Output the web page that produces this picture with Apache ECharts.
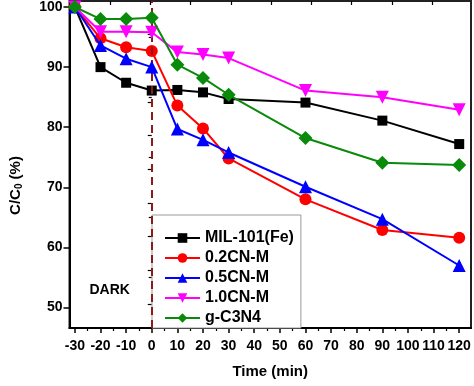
<!DOCTYPE html>
<html>
<head>
<meta charset="utf-8">
<script src="https://cdn.jsdelivr.net/npm/echarts@6/dist/echarts.min.js"></script>
<style>
html,body{margin:0;padding:0;background:#fff;}
#c{width:474px;height:386px;}
</style>
</head>
<body>
<div id="c"></div>
<script>
// ---- data ----
const time = [-30, -20, -10, 0, 10, 20, 30, 60, 90, 120];
const mil101 = [100, 90.0, 87.4, 86.1, 86.2, 85.8, 84.7, 84.1, 81.1, 77.2];
const cn02 = [100, 94.8, 93.3, 92.7, 83.6, 79.8, 74.8, 68.0, 62.9, 61.6];
const cn05 = [100, 93.6, 91.4, 90.0, 79.7, 77.9, 75.8, 70.1, 64.7, 57.0];
const cn10 = [100, 95.9, 95.9, 95.8, 92.5, 92.1, 91.5, 86.1, 85.0, 82.9];
const gc3n4 = [100, 98.0, 98.0, 98.2, 90.4, 88.2, 85.4, 78.2, 74.1, 73.7];
const seriesNames = ['MIL-101(Fe)', '0.2CN-M', '0.5CN-M', '1.0CN-M', 'g-C3N4'];

const xTicks = [-30, -20, -10, 0, 10, 20, 30, 40, 50, 60, 70, 80, 90, 100, 110, 120];
const xMinorTicks = [-25, -15, -5, 5, 15, 25, 35, 45, 55, 65, 75, 85, 95, 105, 115];
const yTicks = [50, 60, 70, 80, 90, 100];
const yMinorTicks = [55, 65, 75, 85, 95];
const topTicks = [-16.2, -0.5, 15.2, 30.9, 46.6, 62.3, 78.0, 93.7, 109.4];
const rightTicks = [50.6, 56.2, 61.8, 67.4, 73.0, 78.6, 84.2, 89.8, 95.4];
const darkLabelPos = [-16.4, 52.9];
const lightOnTime = 0;

const FONT = '"Liberation Sans", Arial, sans-serif';
const colors = ['#000000', '#ff0000', '#0000ff', '#ff00ff', '#0a8a0a'];
const symbols = ['rect', 'circle', 'triangle', 'triangle', 'diamond'];
const symbolSizes = [10, 12, 13, 13, 14];
const symbolRotates = [0, 0, 0, 180, 0];
const allData = [mil101, cn02, cn05, cn10, gc3n4];

const chart = echarts.init(document.getElementById('c'), null, {renderer: 'canvas'});

const xMin = -32.1, xMax = 124.6, yMin = 46.6, yMax = 101;

const series = allData.map((vals, i) => ({
  name: seriesNames[i],
  type: 'line',
  xAxisIndex: 0, yAxisIndex: 0,
  data: time.map((t, k) => [t, vals[k]]),
  symbol: symbols[i],
  symbolSize: symbolSizes[i],
  symbolRotate: symbolRotates[i],
  showAllSymbol: true,
  lineStyle: {color: colors[i], width: 2},
  itemStyle: {color: colors[i]},
  z: 3 + i,
  animation: false
}));

series.push({
  type: 'line',
  data: [],
  xAxisIndex: 0, yAxisIndex: 0,
  silent: true,
  markLine: {
    silent: true,
    symbol: ['none', 'none'],
    label: {show: false},
    lineStyle: {color: '#8b1a1a', type: [8, 5], width: 2},
    data: [{xAxis: lightOnTime}]
  },
  markPoint: {
    silent: true,
    symbol: 'rect',
    symbolSize: 1,
    itemStyle: {color: 'rgba(0,0,0,0)'},
    label: {show: true, position: 'inside', formatter: 'DARK', color: '#000',
      fontFamily: FONT, fontWeight: 'bold', fontSize: 14},
    data: [{coord: darkLabelPos}]
  },
  animation: false
});

const option = {
  backgroundColor: '#fff',
  animation: false,
  grid: {left: 53, right: 3, top: 1, bottom: 58, show: true,
    borderColor: '#222', borderWidth: 2, backgroundColor: 'transparent'},
  legend: {
    data: seriesNames,
    orient: 'vertical',
    left: 152, top: 215,
    itemWidth: 35, itemHeight: 12, itemGap: 4,
    padding: [15, 7, 2, 12],
    backgroundColor: '#fff',
    borderColor: '#999', borderWidth: 1,
    textStyle: {fontFamily: FONT, fontWeight: 'bold', fontSize: 16, color: '#000', lineHeight: 16},
    selectedMode: false
  },
  xAxis: [
    {
      type: 'value', min: xMin, max: xMax, position: 'bottom',
      name: 'Time (min)', nameLocation: 'middle', nameGap: 36,
      nameTextStyle: {fontFamily: FONT, fontWeight: 'bold', fontSize: 15, color: '#000'},
      axisLine: {show: true, onZero: false, lineStyle: {color: '#000', width: 2}},
      axisTick: {show: true, inside: false, length: 5, lineStyle: {color: '#000', width: 1.5}, customValues: xTicks},
      axisLabel: {show: true, margin: 11, fontFamily: FONT, fontWeight: 'bold', fontSize: 14, color: '#000', customValues: xTicks},
      splitLine: {show: false}
    },
    {
      type: 'value', min: xMin, max: xMax, position: 'bottom',
      axisLine: {show: false},
      axisTick: {show: true, inside: false, length: 3, lineStyle: {color: '#000', width: 1.2}, customValues: xMinorTicks},
      axisLabel: {show: false},
      splitLine: {show: false}
    },
    {
      type: 'value', min: xMin, max: xMax, position: 'top',
      axisLine: {show: false},
      axisTick: {show: true, inside: true, length: 4, lineStyle: {color: '#000', width: 1.2}, customValues: topTicks},
      axisLabel: {show: false},
      splitLine: {show: false}
    }
  ],
  yAxis: [
    {
      type: 'value', min: yMin, max: yMax, position: 'left',
      name: '{a|C/C}{s|0}{a| (%)}', nameLocation: 'middle', nameGap: 41,
      nameTextStyle: {
        fontFamily: FONT, fontWeight: 'bold', fontSize: 15, color: '#000',
        padding: [0, 42, 0, 0],
        rich: {
          a: {fontFamily: FONT, fontWeight: 'bold', fontSize: 15, color: '#000', height: 18},
          s: {fontFamily: FONT, fontWeight: 'bold', fontSize: 10, color: '#000', verticalAlign: 'bottom', padding: [8, 0, 0, 0], height: 18}
        }
      },
      axisLine: {show: true, onZero: false, lineStyle: {color: '#000', width: 2}},
      axisTick: {show: true, inside: false, length: 6, lineStyle: {color: '#000', width: 1.5}, customValues: yTicks},
      axisLabel: {show: true, margin: 7, fontFamily: FONT, fontWeight: 'bold', fontSize: 14, color: '#000', customValues: yTicks},
      splitLine: {show: false}
    },
    {
      type: 'value', min: yMin, max: yMax, position: 'left',
      axisLine: {show: false},
      axisTick: {show: true, inside: false, length: 3, lineStyle: {color: '#000', width: 1.2}, customValues: yMinorTicks},
      axisLabel: {show: false},
      splitLine: {show: false}
    },
    {
      type: 'value', min: yMin, max: yMax, position: 'right',
      axisLine: {show: false},
      axisTick: {show: true, inside: true, length: 4, lineStyle: {color: '#000', width: 1.2}, customValues: rightTicks},
      axisLabel: {show: false},
      splitLine: {show: false}
    }
  ],
  series: series
};

chart.setOption(option);
</script>
</body>
</html>
